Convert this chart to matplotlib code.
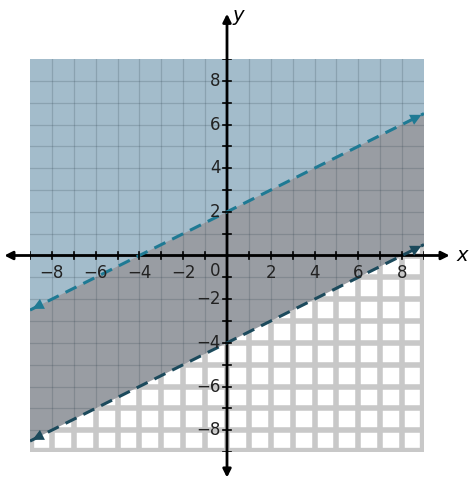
import numpy as np
import matplotlib
matplotlib.use("Agg")
import matplotlib.pyplot as plt
from matplotlib.patches import Polygon

# Boundary lines y = m*x + b
upper_slope, upper_icpt = 0.5, 2
lower_slope, lower_icpt = 0.5, -4
x_ticks = [-8, -6, -4, -2, 2, 4, 6, 8]
y_ticks = [-8, -6, -4, -2, 2, 4, 6, 8]
xmin, xmax = -9, 9

fig = plt.figure(figsize=(4.74, 4.82), dpi=100)
ax = fig.add_axes([30/474, 1-452/482, 394/474, 393/482])
ax.set_xlim(xmin, xmax); ax.set_ylim(-9, 9)
ax.axis('off')

xs = np.array([xmin, xmax])
ax.add_patch(plt.Rectangle((xmin, -9), 18, 18, facecolor='white', edgecolor='#c8c8c8', lw=6, zorder=0))
for v in range(-8, 9):
    ax.axvline(v, color='#c8c8c8', lw=4, zorder=1)
    ax.axhline(v, color='#c8c8c8', lw=4, zorder=1)

yl = lower_slope*xs + lower_icpt
yu = upper_slope*xs + upper_icpt
mid = Polygon([[xmin, yl[0]], [xmax, yl[1]], [xmax, 9], [xmin, 9]], closed=True,
              facecolor='#999da3', edgecolor='none', zorder=2)
ax.add_patch(mid)
up = Polygon([[xmin, yu[0]], [xmax, yu[1]], [xmax, 9], [xmin, 9]], closed=True,
             facecolor='#a3bccb', edgecolor='none', zorder=2.5)
ax.add_patch(up)
for v in range(-8, 9):
    for ln in (ax.axvline(v, color='#2a3a48', alpha=0.2, lw=0.9, zorder=3),
               ax.axhline(v, color='#2a3a48', alpha=0.2, lw=0.9, zorder=3)):
        ln.set_clip_path(mid)

for m, b, c in [(upper_slope, upper_icpt, '#1f7a94'), (lower_slope, lower_icpt, '#1c4a5c')]:
    ys = m*xs + b
    ax.plot(xs, ys, '--', color=c, lw=2.2, dashes=(4, 2.5), zorder=5)
    for (x0, y0), (x1, y1) in [((xs[1]-0.6, ys[1]-0.3), (xs[1], ys[1])), ((xs[0]+0.6, ys[0]+0.3), (xs[0], ys[0]))]:
        ax.annotate('', xy=(x1, y1), xytext=(x0, y0),
                    arrowprops=dict(arrowstyle='-|>', color=c, lw=0, mutation_scale=20), zorder=6)

ax.annotate('', xy=(10.3, 0), xytext=(-10.3, 0), annotation_clip=False,
            arrowprops=dict(arrowstyle='<|-|>', color='black', lw=2, mutation_scale=12))
ax.annotate('', xy=(0, 11.2), xytext=(0, -10.3), annotation_clip=False,
            arrowprops=dict(arrowstyle='<|-|>', color='black', lw=2, mutation_scale=12))
ax.text(10.5, 0, 'x', fontsize=14, style='italic', va='center', ha='left', clip_on=False)
ax.text(0.25, 11.0, 'y', fontsize=14, style='italic', va='center', ha='left', clip_on=False)

for t in range(-9, 10):
    if t == 0: continue
    ax.plot([t, t], [-0.18, 0.18], color='black', lw=1.2, zorder=7)
    ax.plot([-0.18, 0.18], [t, t], color='black', lw=1.2, zorder=7)
for t in x_ticks:
    ax.text(t, -0.4, str(t).replace('-', '−'), ha='center', va='top', fontsize=12, color='#222222', zorder=8)
for t in y_ticks:
    ax.text(-0.3, t, str(t).replace('-', '−'), ha='right', va='center', fontsize=12, color='#222222', zorder=8)
ax.text(-0.3, -0.3, '0', ha='right', va='top', fontsize=12, color='#222222', zorder=8)

fig.savefig('out.png', dpi=100)
